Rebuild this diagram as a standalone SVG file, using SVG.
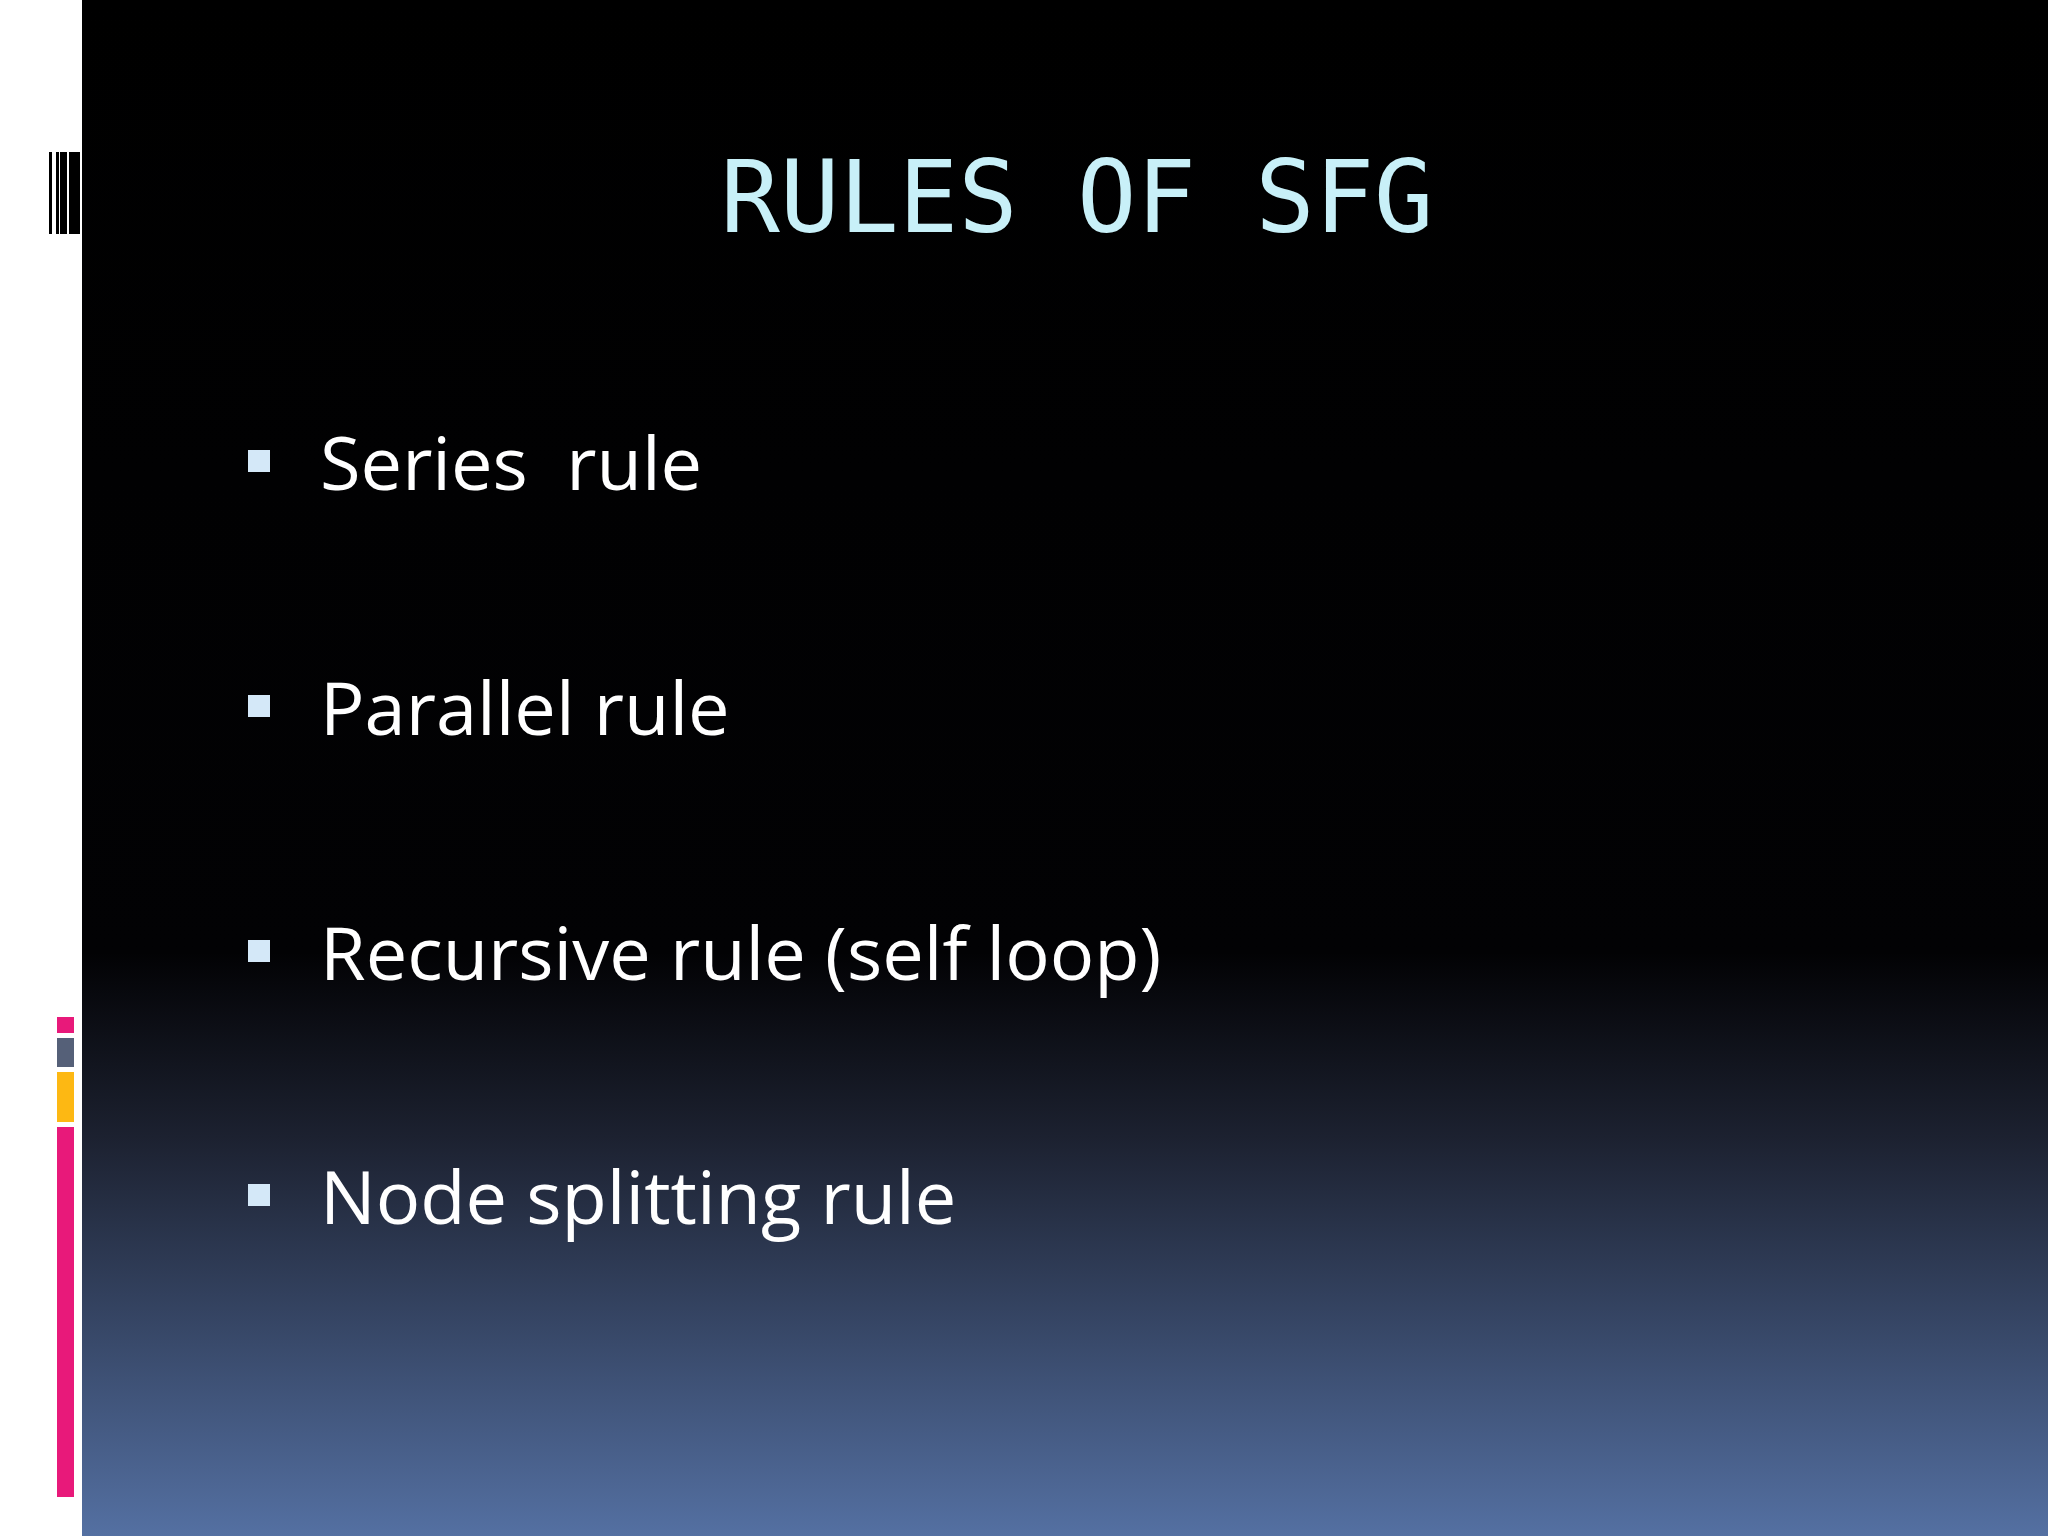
<svg xmlns="http://www.w3.org/2000/svg" width="2048" height="1536" viewBox="0 0 2048 1536">
<defs>
<linearGradient id="bg" x1="0" y1="0" x2="0" y2="1">
<stop offset="0" stop-color="#000"/>
<stop offset="0.62" stop-color="#020204"/>
<stop offset="0.74" stop-color="#1c2130"/>
<stop offset="1" stop-color="#5470a2"/>
</linearGradient>
<style>
.t{font-family:"Open Sans","Liberation Sans",sans-serif;font-size:74px;fill:#fff}
.b{fill:#d4e8f8}
</style>
</defs>
<rect width="2048" height="1536" fill="#fff"/>
<rect x="82" y="0" width="1966" height="1536" fill="url(#bg)"/>
<g id="barcode" fill="#000">
<rect x="49" y="152" width="3" height="82"/>
<rect x="56" y="152" width="3" height="82"/>
<rect x="60" y="152" width="7" height="82"/>
<rect x="69" y="152" width="11" height="82"/>
</g>
<g id="sidebars">
<rect x="57" y="1017" width="17" height="16" fill="#e8197a"/>
<rect x="57" y="1038" width="17" height="29" fill="#556078"/>
<rect x="57" y="1072" width="17" height="50" fill="#fdb813"/>
<rect x="57" y="1127" width="17" height="370" fill="#e8197a"/>
</g>
<g id="title">
<text x="1077" y="232" text-anchor="middle" font-family="DejaVu Sans Mono,monospace" font-size="100" fill="#c8f0f8" textLength="713" lengthAdjust="spacingAndGlyphs">RULES OF SFG</text>
</g>
<g id="item1"><rect class="b" x="248" y="450" width="22" height="22"/><text class="t" x="320" y="490" xml:space="preserve">Series  rule</text></g>
<g id="item2"><rect class="b" x="248" y="695" width="22" height="22"/><text class="t" x="320" y="735">Parallel rule</text></g>
<g id="item3"><rect class="b" x="248" y="940" width="22" height="22"/><text class="t" x="320" y="980">Recursive rule (self loop)</text></g>
<g id="item4"><rect class="b" x="248" y="1184" width="22" height="22"/><text class="t" x="320" y="1224">Node splitting rule</text></g>
<g id="connectors"/>
</svg>
